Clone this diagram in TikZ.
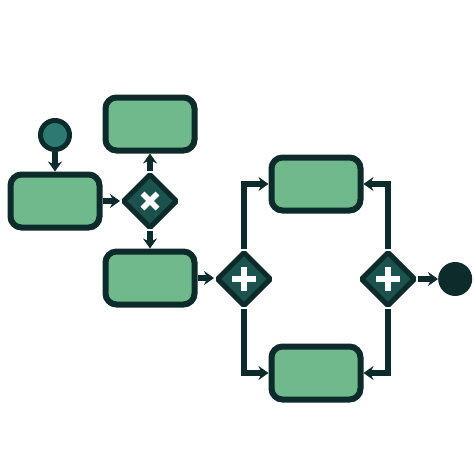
\documentclass[tikz,border=0pt]{standalone}
\usepackage{xcolor}
\usetikzlibrary{positioning,shapes.geometric,arrows.meta}
\definecolor{inkdark}{HTML}{0E2B2B}
\definecolor{taskgreen}{HTML}{6FB98C}
\definecolor{gatefill}{HTML}{1B524E}
\definecolor{startfill}{HTML}{2E7A73}

\begin{document}
\begin{tikzpicture}[x=1pt, y=-1pt,
          flow/.style={-{Stealth[length=10pt, width=14pt, inset=3.5pt]}, line width=5.5pt, draw=inkdark},
          gateway/.style={diamond, draw=inkdark, fill=gatefill, line width=5pt, inner sep=0pt,
                          rounded corners=1.5pt, minimum width=55pt, minimum height=55pt}]
          % A task box style
          \tikzstyle{taskbox} = [draw=inkdark, fill=taskgreen, rectangle, rounded corners=11pt,
                                 line width=6pt, minimum width=89pt, minimum height=53pt]
          \useasboundingbox (0,0) rectangle (474,474);

          % Start, first task and exclusive split
          \node (start) [circle, draw=inkdark, fill=startfill, line width=5pt, minimum size=29pt] at (55,135) {};
          \node (taskA) [taskbox] at (55,201) {};
          \node (xor)   [gateway] at (150,201) {};
          \node (taskB) [taskbox] at (150,124) {};
          \node (taskC) [taskbox] at (150,278) {};

          % Parallel split and join
          \node (andSplit) [gateway] at (244,279) {};
          \node (taskD)    [taskbox] at (316,184) {};
          \node (taskE)    [taskbox] at (316,373) {};
          \node (andJoin)  [gateway] at (388,279) {};
          \node (finish)   [circle, fill=inkdark, minimum size=34pt, right=20pt of andJoin] {};

          % Gateway markers
          \draw[white, line width=5.5pt] ([shift={(-7.5,-7.5)}]xor.center) -- ([shift={(7.5,7.5)}]xor.center);
          \draw[white, line width=5.5pt] ([shift={(-7.5,7.5)}]xor.center) -- ([shift={(7.5,-7.5)}]xor.center);
          \foreach \g in {andSplit, andJoin} {
            \draw[white, line width=6.5pt] ([xshift=-12pt]\g.center) -- ([xshift=12pt]\g.center);
            \draw[white, line width=6.5pt] ([yshift=-12pt]\g.center) -- ([yshift=12pt]\g.center);
          }

          % Sequence flows
          \draw[flow] (start) -- (taskA);
          \draw[flow] (taskA) -- (xor);
          \draw[flow] (xor) -- (taskB);
          \draw[flow] (xor) -- (taskC);
          \draw[flow] (taskC.east) -- (taskC.east -| andSplit.west);
          \draw[flow] (andSplit.north) |- (taskD);
          \draw[flow] (andSplit.south) |- (taskE);
          \draw[flow] (andJoin.north) |- (taskD);
          \draw[flow] (andJoin.south) |- (taskE);
          \draw[flow] (andJoin) -- (finish);

\end{tikzpicture}
\end{document}
